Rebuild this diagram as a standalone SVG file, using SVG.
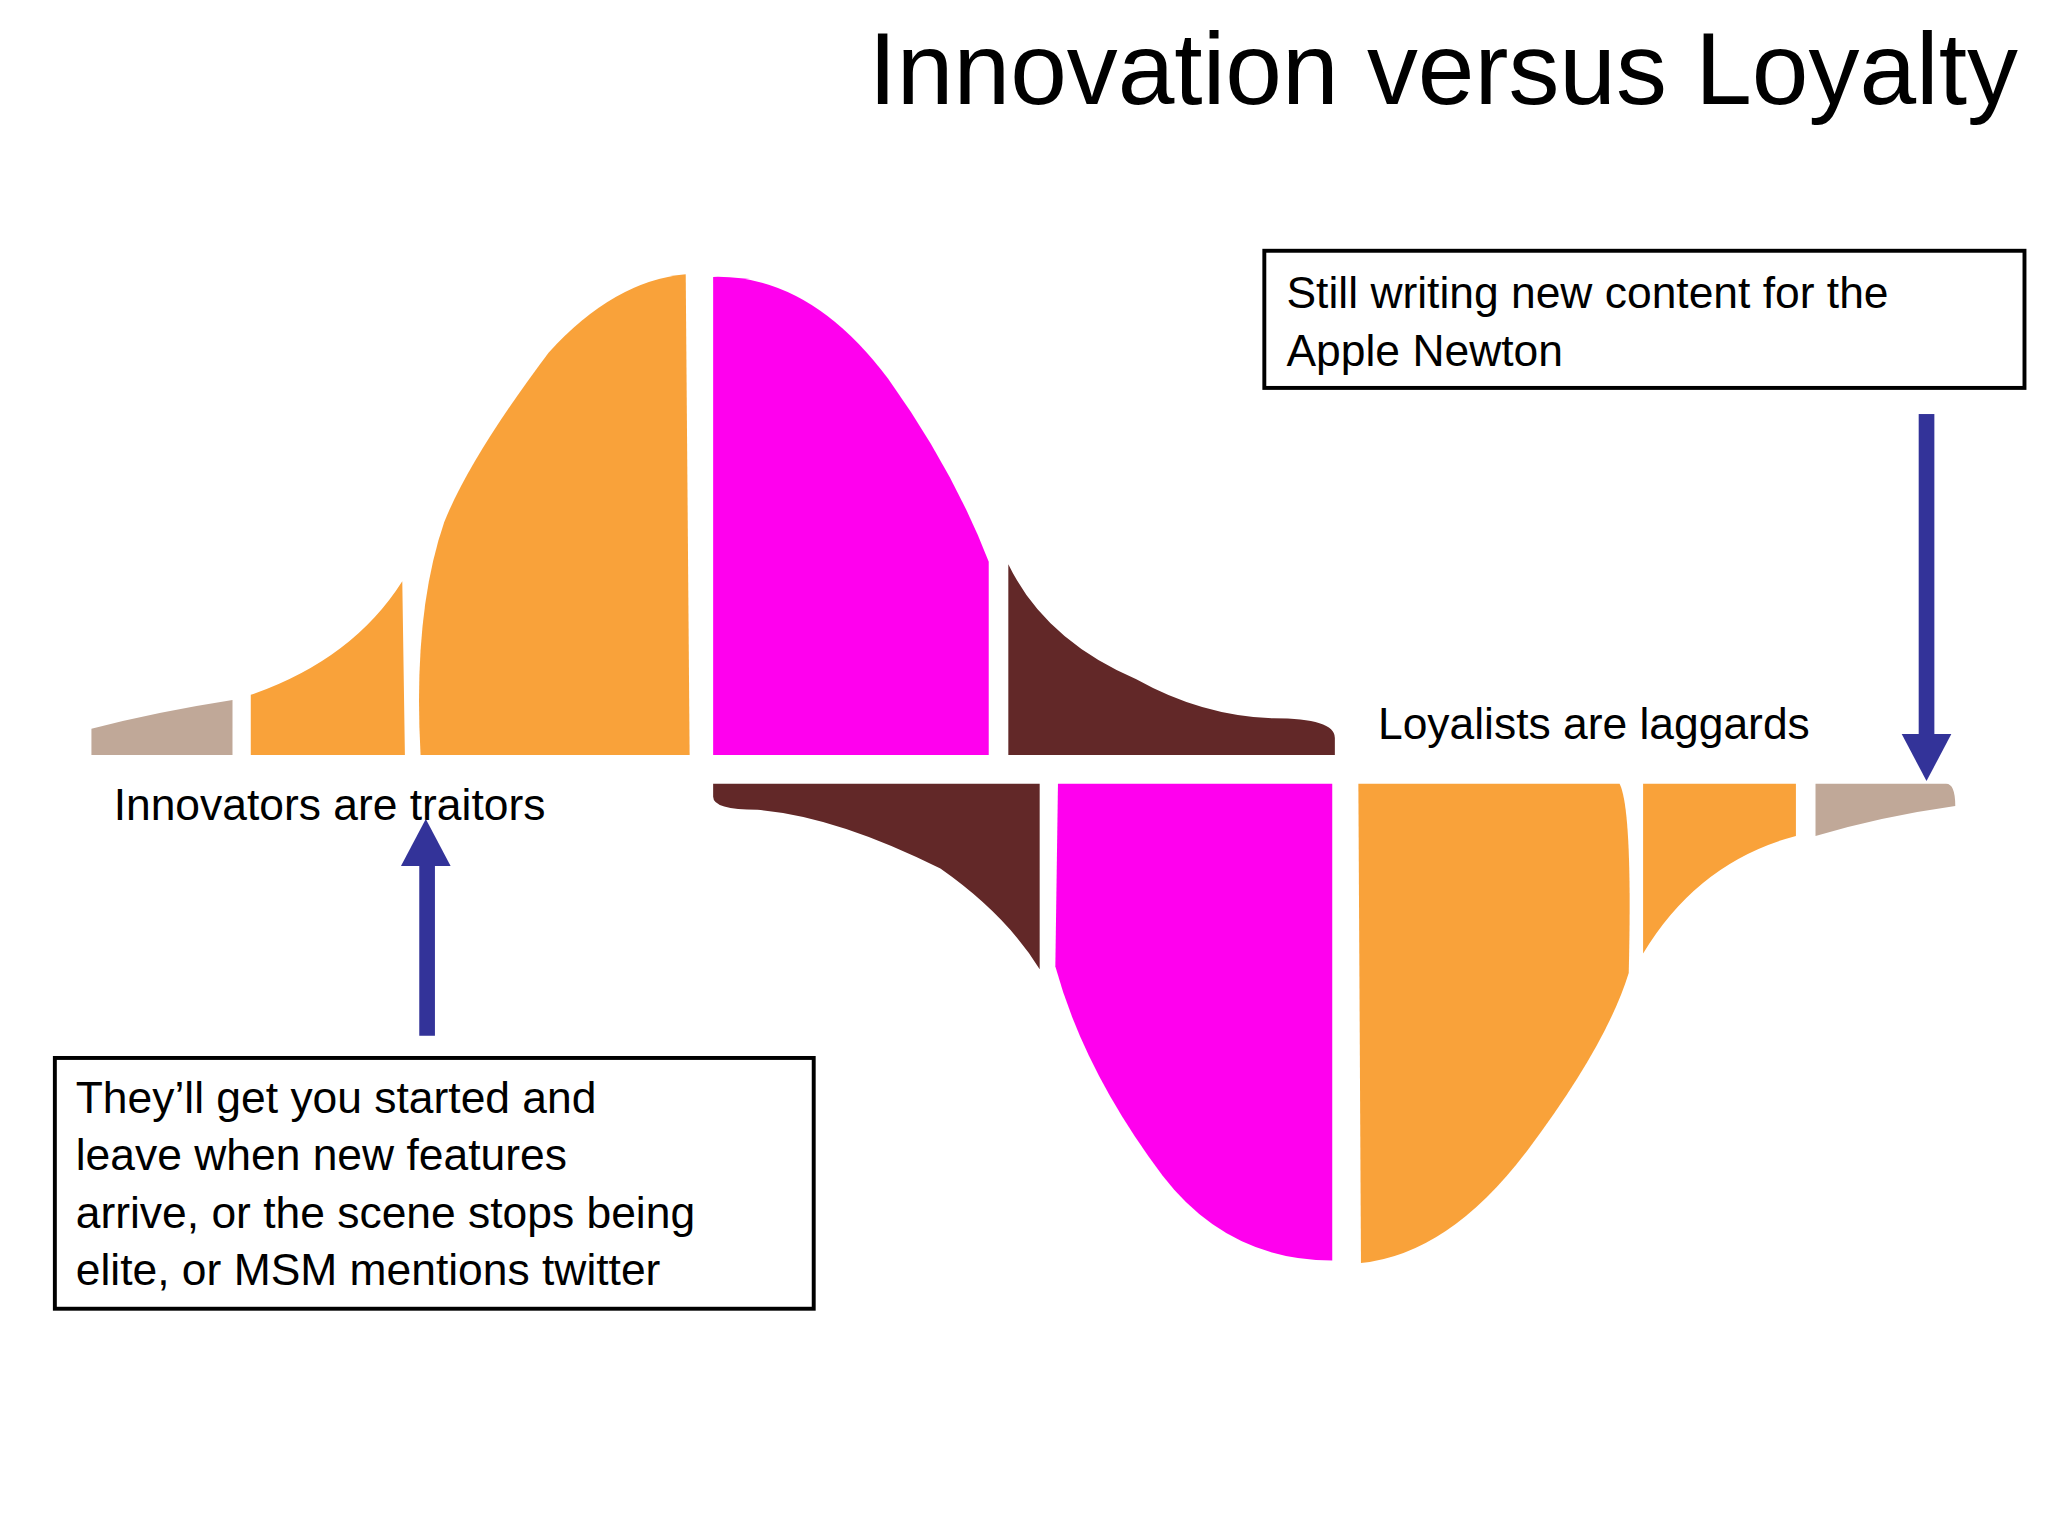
<svg xmlns="http://www.w3.org/2000/svg" width="2048" height="1536" viewBox="0 0 2048 1536">
<style>
.t{font-family:"Liberation Sans",Arial,sans-serif;fill:#000}
.o{fill:#F9A23A}.m{fill:#FF00EE}.b{fill:#622828}.n{fill:#C0A898}
.box{fill:#fff;stroke:#000;stroke-width:3}
.ar{fill:#333399}
</style>
<rect width="2048" height="1536" fill="#fff"/>
<g transform="scale(1.30612)">
<text class="t" x="1545" y="80" font-size="78" text-anchor="end">Innovation versus Loyalty</text>
<g id="top-curve">
<path class="n" d="M70,558 Q120,545 178,536 L178,578 L70,578 Z"/>
<path class="o" d="M192,578 L192,532 Q270,505 308,445 L310,578 Z"/>
<path class="o" d="M322,578 Q316,470 340,400 Q360,350 420,270 Q470,215 525,210 L528,578 Z"/>
<path class="m" d="M546,578 L546,212 Q620,210 680,290 Q730,360 757,430 L757,578 Z"/>
<path class="b" d="M772,578 L772,432 Q800,490 870,520 Q920,548 975,550 Q1022,550 1022,565 L1022,578 Z"/>
</g>
<g id="bottom-curve">
<path class="b" d="M546,600 L796,600 L796,742 Q770,700 720,665 Q640,625 580,620 Q546,620 546,610 Z"/>
<path class="m" d="M810,600 L1020,600 L1020,965 Q940,965 890,900 Q830,820 808,740 Z"/>
<path class="o" d="M1040,600 L1240,600 Q1250,620 1247,745 Q1230,800 1170,880 Q1110,960 1042,967 Z"/>
<path class="o" d="M1258,600 L1375,600 L1375,640 Q1300,660 1258,730 Z"/>
<path class="n" d="M1390,600 L1490,600 Q1497,600 1497,617 Q1440,625 1390,640 Z"/>
</g>
<g id="label-loyalists"><text class="t" x="1055" y="566" font-size="34">Loyalists are laggards</text></g>
<g id="label-innovators"><text class="t" x="87" y="628" font-size="34">Innovators are traitors</text></g>
<g id="box-newton">
<rect class="box" x="968" y="192" width="582" height="105"/>
<text class="t" x="985" y="236" font-size="34">Still writing new content for the</text>
<text class="t" x="985" y="280" font-size="34">Apple Newton</text>
</g>
<g id="box-started">
<rect class="box" x="42" y="810" width="581" height="192"/>
<text class="t" x="58" y="852" font-size="34">They’ll get you started and</text>
<text class="t" x="58" y="896" font-size="34">leave when new features</text>
<text class="t" x="58" y="940" font-size="34">arrive, or the scene stops being</text>
<text class="t" x="58" y="984" font-size="34">elite, or MSM mentions twitter</text>
</g>
<g id="connectors">
<rect class="ar" x="1469" y="317" width="12" height="248"/>
<polygon class="ar" points="1456,562 1494,562 1475,598"/>
<rect class="ar" x="321" y="660" width="12" height="133"/>
<polygon class="ar" points="307,663 345,663 326,627"/>
</g>
</g>
</svg>
